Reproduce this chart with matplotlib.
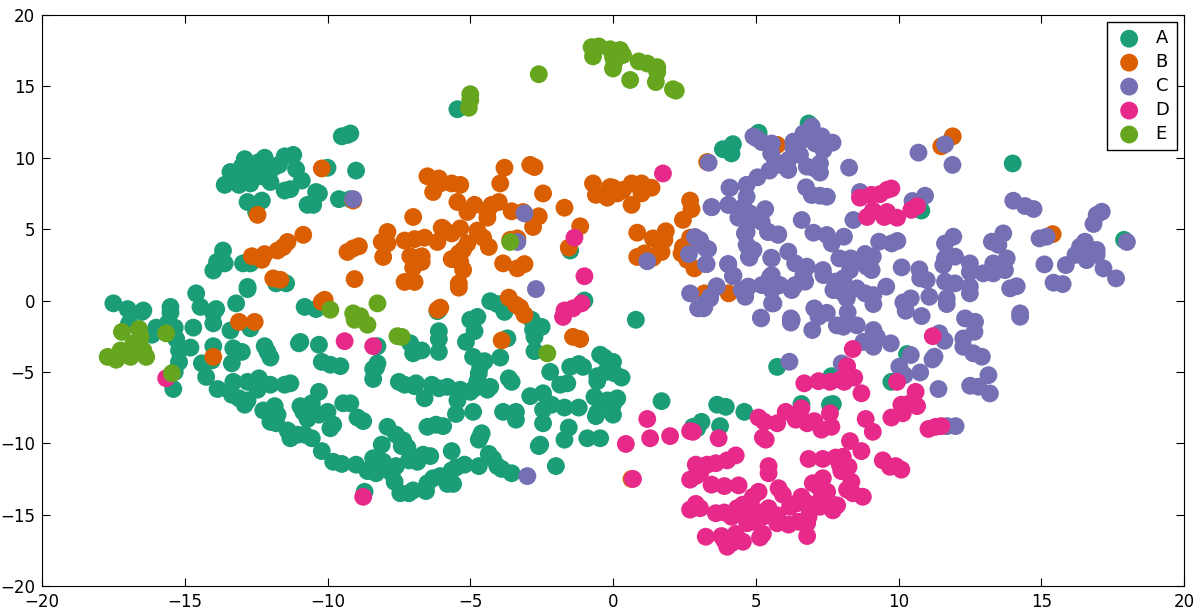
import numpy as np
import matplotlib.pyplot as plt

labels = ["A", "B", "C", "D", "E"]
colors = ["#1b9e77", "#d95f02", "#7570b3", "#e7298a", "#66a61e"]

points_a = [(-13.6,8.1),(-13.4,9),(-13.1,8.1),(-13,8.8),(-12.9,9.9),(-12.7,8.2),(-12.6,9.3),(-12.3,8.7),(-12.2,10),(-12,8.3),
    (-11.9,9.3),(-11.7,9.5),(-11.5,10.1),(-11.2,10.2),(-11.1,9.2),(-10.9,8.4),(-13.2,8.6),(-12.8,9.5),(-12.4,9.7),(-13,9.4),
    (-11.3,7.8),(-11.5,7.7),(-12.8,6.9),(-12.3,7),(-12.5,6.2),(-10.4,7.6),(-10.3,7.5),(-10.7,6.7),(-10.5,6.7),(-10,9.3),
    (-9.6,7.1),(-9.2,7.1),(-9,9.1),(-9.5,11.5),(-9.3,11.6),(-9.2,11.7),(-13.66,3.5),(-13.87,2.7),(-14,2.1),(-13.6,2.6),
    (-12.96,2.6),(-12.7,2.6),(-12.8,0.95),(-12.8,0.8),(-11.8,1.2),(-11.45,1.2),(-14.6,0.5),(-14.45,-0.45),(-13.9,-0.6),(-13.2,-0.2),
    (-14,-1.6),(-14,-0.9),(-14.7,-1.9),(-13.4,-2.1),(-12.7,-1.95),(-14,-3.2),(-13.3,-3.35),(-13,-3.6),(-11,-3),(-10.95,-2.9),
    (-10.3,-3.1),(-12.2,-3.2),(-12.1,-3.6),(-12,-4),(-17.5,-0.2),(-17,-0.6),(-16.45,-0.7),(-16.5,-0.8),(-15.5,-0.45),(-15.5,-0.85),
    (-16.95,-1.6),(-16,-1.9),(-16.15,-2.4),(-15.6,-1.6),(-15.35,-1.9),(-15.3,-2.7),(-15.2,-3.5),(-14.8,-3.3),(-15.2,-4.3),(-15.35,-5),
    (-15.4,-6.2),(-14.4,-4.4),(-14.05,-4.2),(-13.35,-4.4),(-14.25,-5.35),(-13.85,-6.2),(-13.3,-5.7),(-12.8,-5.7),(-12.4,-5.45),(-12.45,-6.25),
    (-12,-5.9),(-11.5,-5.9),(-11.3,-5.8),(-10.3,-6.4),(-13.35,-6.6),(-13.1,-6.85),(-12.8,-7),(-12.9,-7.3),(-12.25,-7.7),(-11.85,-7.4),
    (-12,-7.9),(-11.75,-8),(-12,-8.5),(-11.8,-8.6),(-11.4,-9.1),(-11.3,-9.65),(-11.05,-9.4),(-10.8,-9.4),(-10.55,-9.65),(-10.2,-10.55),
    (-10.95,-7.4),(-10.55,-7.2),(-10.85,-7.8),(-10.7,-8.3),(-10,-7.8),(-10.3,-8),(-9.9,-8.95),(-9.8,-8.7),(-9.45,-7.2),(-9.2,-7.2),
    (-8.95,-8.2),(-8.75,-8.45),(-8.3,-4.7),(-8.4,-4.8),(-8.4,-5.5),(-7.5,-5.7),(-7.3,-5.9),(-6.9,-5.8),(-6.95,-6),(-6.35,-5.9),
    (-6.1,-6.15),(-6.6,-6.85),(-7.9,-8.85),(-7.6,-9.4),(-7.35,-9.8),(-7.4,-10.2),(-7.2,-10.3),(-8.1,-10.1),(-6.5,-8.85),(-6.2,-8.7),
    (-7.15,-11.2),(-6.85,-11.3),(-6.65,-10.8),(-6.4,-10.9),(-9.8,-11.3),(-9.5,-11.45),(-9,-11.5),(-8.6,-11.95),(-8.3,-12.1),(-8.4,-11.05),
    (-8.4,-11.5),(-8.05,-11.3),(-7.6,-11.6),(-7.75,-12.1),(-7.65,-12.7),(-7.45,-13.5),(-7.15,-13.5),(-7,-13.3),(-6.55,-13.35),(-6.5,-12.8),
    (-6.3,-12.45),(-8.7,-13.4),(-6.05,-12.3),(-5.8,-12.85),(-5.6,-12.85),(-5.65,-11.9),(-5.5,-11.7),(-5.65,-10.55),(-5.2,-11.5),(-4.7,-11.6),
    (-4.35,-10.75),(-4.2,-11.1),(-4.05,-11.6),(-3.9,-11.8),(-3.55,-12.1),(-2,-11.6),(-4.65,-9.55),(-4.6,-9.3),(-4.7,-9.75),(-2.6,-10.2),
    (-2.55,-10.1),(-1.7,-9.75),(-0.9,-9.65),(-0.45,-9.65),(-1.55,-8.9),(-5.95,-8.8),(-5.5,-7.95),(-4.9,-7.8),(-5.45,-7),(-5,-6.4),
    (-4.85,-6.15),(-4.4,-6.25),(-4.3,-6.05),(-5.35,-6.25),(-5.8,-6.05),(-4.75,-5.65),(-4.65,-4.6),(-4.7,-5.1),(-4.9,-3.95),(-4.5,-4.25),
    (-3.95,-4),(-5.15,-2.9),(-3.7,-2.65),(-5,-1.35),(-4.85,-2.15),(-4.75,-1.15),(-4.3,-0.05),(-4.05,-0.25),(-3.8,-0.8),(-2.85,-1.35),
    (-2.8,-2.05),(-2.75,-2.55),(-2.75,-3.55),(-2.5,-1.85),(-6.1,-2.7),(-6.1,-3.6),(-6.1,-2.15),(-6.15,-0.75),(-7.1,-3),(-6.9,-3.55),
    (-6.7,-3.5),(-7,-3.7),(-3.65,-5.45),(-3.55,-5.7),(-3.85,-7.8),(-3.4,-7.8),(-3.4,-8.35),(-2.9,-6.7),(-2.45,-6.5),(-2.45,-7.65),
    (-2.45,-8.6),(-2.2,-5),(-1.85,-5.9),(-1.6,-5.8),(-1.5,-4.65),(-1.2,-4.45),(-1.05,-4.65),(-1.2,-7.5),(-1.7,-7.5),(-2.15,-7.3),
    (-0.55,-5.3),(-0.55,-5.65),(-0.45,-3.8),(-0.3,-4),(-0.25,-5),(0.05,-5.1),(0.3,-5.4),(0,-4.3),(-0.65,-6.75),(-0.6,-8.1),
    (-0.55,-7.85),(-0.2,-7),(0,-7.3),(0.15,-6.85),(0,-8),(0.8,-1.35),(1.7,-7.05),(3.1,-8.5),(2.95,-8.95),(3.75,-8.8),
    (3.65,-7.3),(3.95,-7.45),(4.6,-7.8),(2.8,-8.85),(6.6,-7.25),(7.7,-7.25),(7.6,-7.3),(5.75,-4.65),(7.65,-5.3),(10.3,-3.75),
    (9.75,-5.7),(-5.45,13.4),(-1.5,3.5),(-1,0),(3.85,10.6),(4.2,10.95),(4.15,10.3),(5.1,11.75),(6.85,12.4),(10.8,6.3),
    (14,9.6),(17.9,4.25),(-10.8,-0.45),(-10.4,-0.6),(-10.2,-4.3),(-9.9,-4.5),(-9.55,-4.6),(-8.25,-4.4),(-8.25,-3.2),(-6.1,-0.65)]

points_b = [(-10.2,9.25),(-12.45,6),(-10.85,4.6),(-11.4,4.1),(-11.55,3.75),(-11.75,3.5),(-12.65,3.1),(-12.2,3.25),(-12.3,2.85),(-11.9,1.55),
    (-11.65,1.45),(-10.2,-0.1),(-10.1,0.05),(-13.1,-1.5),(-12.55,-1.5),(-14,-3.95),(-9.05,1.5),(-9.3,3.4),(-9.1,3.65),(-8.9,3.8),
    (-8.1,4.1),(-7.9,4.8),(-7.9,4),(-8.05,3.05),(-7.3,4.2),(-6.95,4.3),(-6.6,4.4),(-7,5.85),(-6.5,8.7),(-6.3,7.6),
    (-7.1,3.1),(-6.7,3.1),(-6.7,2.7),(-7,2.3),(-7.3,1.3),(-6.95,1.3),(-6.95,2.7),(-6.15,-0.65),(-6.15,4.1),(-6,5.1),
    (-6.1,8.55),(-6.05,8.2),(-5.65,8.2),(-5.35,8.1),(-5.45,6.9),(-5.1,6.2),(-4.85,6.7),(-4.4,5.8),(-4.4,6.2),(-4.25,6.7),
    (-4,6.9),(-3.95,8.2),(-3.8,9.3),(-2.9,9.5),(-2.75,9.35),(-2.45,7.5),(-3.55,6.25),(-3.15,6.2),(-2.6,5.9),(-2.8,5.15),
    (-1.7,6.5),(-1.15,5.2),(-1.55,3.7),(-5.95,5.05),(-5.65,4.7),(-5.35,5.05),(-4.75,4.9),(-4.55,4.4),(-4.35,3.75),(-5.1,4),
    (-5.25,3.55),(-5.4,3.3),(-5.65,2.9),(-5.35,2.7),(-5.25,2.15),(-5.4,1.2),(-5.4,0.9),(-3.85,2.6),(-3.35,2.25),(-3.1,2.55),
    (-3.6,4.25),(-3.35,4.35),(-6.05,-0.5),(-3.65,0.2),(-3.4,-0.3),(-3.25,-0.5),(-3.1,-1),(-1.4,-2.55),(-1.15,-2.7),(-3.9,-2.8),
    (-0.7,8.2),(-0.6,7.4),(-0.2,7.2),(0,7.9),(0.15,7.5),(0.35,7.75),(0.65,8.2),(1,8.2),(1.35,7.9),(1,7.5),
    (0.65,6.7),(-0.1,7.95),(2.7,7),(2.75,6.4),(2.45,5.65),(0.85,4.75),(1.85,4.85),(1.4,4.35),(1.8,4.25),(1.65,3.9),
    (0.85,3.05),(1.1,3.3),(1.4,3),(1.7,3.4),(2.7,4.4),(2.45,3.75),(2.4,3.3),(2.6,2.85),(2.85,2.25),(3.3,9.7),
    (3.2,0.5),(4.05,0.5),(5.75,10.9),(11.9,11.5),(11.5,10.8),(15.4,4.65),(0.65,-12.5),(-9.1,7)]

points_c = [(5.03,11.36),(4.92,11.5),(5.21,11.1),(5.56,11),(5.54,10.3),(5.68,9.72),(6.14,9.84),(6.14,9.14),(5.85,9.5),(5.48,9.1),
    (5.06,8.63),(4.68,8.1),(4.08,7.9),(3.46,6.53),(4.04,6.7),(4.68,7.27),(4.57,6.57),(5.33,6.4),(4.39,5.8),(4.8,6.1),
    (4.74,5.5),(5.21,5.5),(4.68,4.8),(5.44,4.8),(5.79,4.63),(4.68,3.9),(4.92,3.53),(4.78,3),(3.25,3.65),(3.05,4.24),
    (3.28,2.55),(4.04,2.55),(4.22,1.74),(3.63,1),(3.4,0.15),(3.17,-0.55),(3.22,-0.2),(4.51,0.73),(4.74,0.97),(4.63,0.26),
    (5.21,1.08),(5.56,1.78),(5.85,1.08),(5.56,0.73),(5.62,-0.2),(6.14,3.42),(6.38,2.6),(6.79,2.37),(5.56,2.95),(6.67,1.78),
    (6.73,1.32),(6.38,1.08),(6.26,0.73),(5.19,-1.25),(6.23,-1.25),(6.23,-1.55),(6.98,-2.07),(7.05,-0.55),(7.2,-1.14),(7.49,-0.86),
    (8.22,-0.83),(7.84,-1.74),(8.07,-1.84),(8.54,-1.74),(9.12,-2.07),(9.24,-2.54),(8.77,-2.9),(9.12,-3.24),(9.73,-3),(6.61,5.64),
    (7.02,4.75),(7.49,4.59),(7.66,4),(8.09,4.47),(9.32,4.12),(9.76,4),(9.96,4.17),(8.42,5.64),(6.76,7.93),(6.96,7.39),
    (7.25,7.34),(7.49,7.27),(6.79,9.38),(7.25,9.6),(7.25,8.96),(7.05,9.26),(8.27,9.31),(6.55,10.2),(6.32,11.13),(6.32,10.66),
    (6.67,11.7),(6.96,12.2),(6.9,11.5),(7.31,11.5),(7.37,10.55),(7.69,11.06),(7.08,11),(6.55,11.13),(10.7,10.36),(11.63,10.94),
    (11.89,9.5),(8.65,7.6),(10.49,6.97),(10.93,7.34),(7.93,2.95),(8.33,2.95),(8.83,3.26),(9.1,3.07),(10.11,2.32),(10.73,2.18),
    (10.99,1.43),(10.76,1.55),(9.06,2.13),(8.89,2.37),(8.3,2.13),(8.36,2.6),(7.35,2.13),(7.37,1.78),(8.07,1.55),(7.78,1.32),
    (7.72,0.73),(8.07,0.5),(8.19,0.15),(8.54,0.85),(8.83,0.5),(9.12,0.38),(9.12,-0.25),(9.57,0.97),(11.08,0.26),(11.69,0.15),
    (11.69,-0.25),(10.43,0.15),(10.17,-0.13),(10.25,-0.72),(10.81,-1.09),(11.92,4.47),(11.63,3.99),(11.63,2.95),(11.98,3.07),(11.57,2.48),
    (11.63,1.32),(11.98,1.2),(12.5,2.6),(12.5,2),(12.97,1.9),(12.5,0.97),(12.5,0.5),(13.27,4.12),(13.67,4.7),(13.5,3.9),
    (13.32,2.6),(13.79,2.95),(13.73,2.13),(13.32,1.9),(13.91,0.85),(14.14,1),(14.26,-0.9),(14.26,-1.14),(15.11,2.53),(14.94,4.35),
    (15.19,4.47),(15.43,1.25),(15.75,1.15),(15.86,2.48),(14.02,6.99),(14.43,6.62),(14.73,6.41),(16.83,5.36),(16.94,5.99),(17.12,6.22),
    (16.53,4.12),(16.36,3.77),(16.2,3.2),(16.59,2.83),(16.94,3.54),(16.94,3.2),(17.18,2.25),(17.62,1.55),(18,4.1),(12.33,-1.25),
    (12.68,-1.49),(12.66,-2.19),(12.27,-2.66),(12.27,-3.24),(12.62,-3.7),(12.92,-3.94),(11.43,-2.3),(11.61,-2.82),(11.26,-3.94),(11.19,-4.13),
    (10.43,-3.82),(10.76,-5.04),(10.03,-4.64),(10.21,-5.23),(8.01,-4.41),(6.18,-4.29),(11.4,-6.2),(13.15,-5.23),(12.51,-5.97),(12.8,-6.04),
    (13.2,-6.51),(11.7,-8.8),(12,-8.8),(-3.1,6.1),(-3.35,4.1),(-2.7,0.8),(1.2,2.75),(3.35,9.65),(4.1,7.9),(3.45,6.55),
    (4.05,6.7),(2.87,4.45),(3.1,3.95),(3.33,3.6),(2.66,3.25),(3.25,2.55),(4.03,2.55),(4.2,1.7),(2.7,0.5),(3.63,0.95),
    (3.4,0.25),(2.98,-0.55),(3.2,-0.45),(5.18,-1.2),(6.26,-1.35),(4.62,0.5),(4.73,0.95),(5.57,-0.2),(5.5,1.65),(5.54,3),
    (4.76,3.05),(4.73,3.75),(4.62,4.7),(5.43,4.8),(5.78,4.6),(-9.1,7.1),(-3,-12.3)]

points_d = [(1.2,-8.3),(0.45,-10.05),(1.3,-9.65),(2,-9.5),(2.8,-9.2),(2.7,-9.15),(3.7,-9.65),(0.7,-12.5),(5.1,-8.2),(5.3,-8.5),
    (5.75,-8.6),(6.05,-7.8),(6.4,-8.35),(6.6,-7.55),(6.8,-8.6),(7.05,-8.45),(7.3,-9.05),(7.65,-8.85),(7.6,-7.9),(5.25,-9.6),
    (5.35,-9.75),(8.3,-9.85),(8.7,-10.55),(9.1,-9.2),(8.85,-8.3),(6.7,-5.8),(7.2,-5.65),(7.6,-5.7),(7.95,-5.55),(8.1,-5.7),
    (8.45,-5.4),(8.7,-6.5),(8.2,-4.6),(8.4,-3.4),(9.95,-5.7),(10.6,-6.4),(10.1,-7.3),(10.4,-7.2),(10.65,-7.4),(10.15,-7.9),
    (9.75,-8.2),(11.05,-9),(11.3,-8.85),(11.5,-8.8),(9.45,-11.2),(9.7,-11.65),(9.9,-11.6),(10.1,-11.85),(2.9,-11.5),(3.3,-11.5),
    (3.6,-11.4),(4,-11.2),(4.3,-10.85),(3.05,-12.1),(2.7,-12.55),(2.9,-12.3),(3.45,-12.9),(3.9,-13),(4.4,-12.95),(2.7,-14.65),
    (2.9,-14.25),(3.05,-14.55),(3.6,-14.9),(3.9,-14.85),(4.15,-15.15),(4.35,-14.55),(4.55,-14.3),(4.8,-14.2),(4.9,-13.75),(5.1,-13.4),
    (4.75,-15),(4.7,-15.6),(4.95,-15.5),(5.25,-15.15),(5.05,-14.8),(5.45,-14.55),(5.75,-15.05),(5.75,-15.6),(6.15,-15.7),(6.5,-15.5),
    (6.8,-15.6),(6.8,-16.5),(5.25,-16.35),(5.15,-16.6),(3.25,-16.55),(3.8,-16.5),(4,-17.25),(4.15,-17),(4.3,-16.35),(4.55,-16.9),
    (3.9,-16.8),(5.45,-11.6),(5.45,-12.1),(5.8,-13.15),(5.95,-13.6),(6.2,-14.45),(6.6,-13.75),(6.45,-14.2),(6.8,-14.2),(6.9,-14.7),
    (6.85,-15.15),(7,-12.8),(7.35,-12.45),(7.2,-13.05),(7.5,-13.4),(7.3,-13.85),(7.6,-14.2),(7.85,-14.35),(7.7,-14.7),(7.25,-14.45),
    (6.85,-11.1),(7.35,-11.1),(7.8,-11),(8.05,-10.95),(7.95,-11.55),(8.25,-11.65),(8,-11.95),(8.35,-12.7),(8.2,-13.25),(8.4,-13.5),
    (8.75,-13.75),(11.2,-2.5),(8.65,7.2),(9.05,7.4),(9.35,7.45),(9.75,7.85),(9.6,7.75),(8.9,5.85),(9.1,6.3),(9.6,6.2),
    (9.5,5.85),(9.95,5.8),(10.45,6.35),(10.65,6.6),(1.75,8.9),(-1.35,4.4),(-1,1.7),(-1.75,-1.15),(-1.7,-0.7),(-1.4,-0.55),
    (-1.1,-0.2),(-9.4,-2.85),(-8.4,-3.2),(-15.65,-5.45),(-8.75,-13.75)]

points_e = [(-2.6,15.85),(-5,14.45),(-5,14.05),(-5.05,13.5),(-0.75,17.75),(-0.5,17.8),(-0.7,17.1),(-0.1,17.6),(0.25,17.55),(0.35,17.2),
    (0,17.05),(0.05,16.7),(0,16.25),(0.6,15.45),(0.9,16.75),(1.2,16.6),(1.55,16.35),(1.55,16),(1.5,15.3),(2.1,14.8),
    (2.2,14.7),(-3.6,4.1),(-8.25,-0.2),(-9.9,-0.65),(-9.1,-0.9),(-8.85,-1.1),(-9.05,-1.35),(-8.6,-1.7),(-7.55,-2.5),(-7.4,-2.55),
    (-15.65,-2.3),(-17.2,-2.2),(-16.6,-2),(-16.55,-2.55),(-16.8,-3),(-16.9,-3.5),(-17.25,-3.5),(-17.7,-3.95),(-17.4,-4.15),(-16.9,-3.95),
    (-16.45,-3.5),(-16.35,-3.95),(-15.45,-5.1),(-2.3,-3.7)]

all_points = [points_a, points_b, points_c, points_d, points_e]

fig = plt.figure(figsize=(12, 6.13), dpi=100)
ax = fig.add_axes([42/1200, 27/613, 1142/1200, 571/613])

for pts, lab, col in zip(all_points, labels, colors):
    pts = np.array(pts)
    ax.scatter(pts[:, 0], pts[:, 1], s=165, c=col, edgecolors="none", label=lab)

ax.set_xlim(-20, 20)
ax.set_ylim(-20, 20)
ax.set_xticks(np.arange(-20, 21, 5))
ax.set_yticks(np.arange(-20, 21, 5))
ax.tick_params(direction="in", top=True, right=True, length=6, labelsize=12, pad=5)

leg = ax.legend(loc="upper right", scatterpoints=1, fontsize=13, fancybox=False, framealpha=1,
                edgecolor="black", labelspacing=0.33, borderaxespad=0.4, handlelength=1.6, handletextpad=0.67)
leg.get_frame().set_linewidth(1)

fig.savefig("out.png", dpi=100)
